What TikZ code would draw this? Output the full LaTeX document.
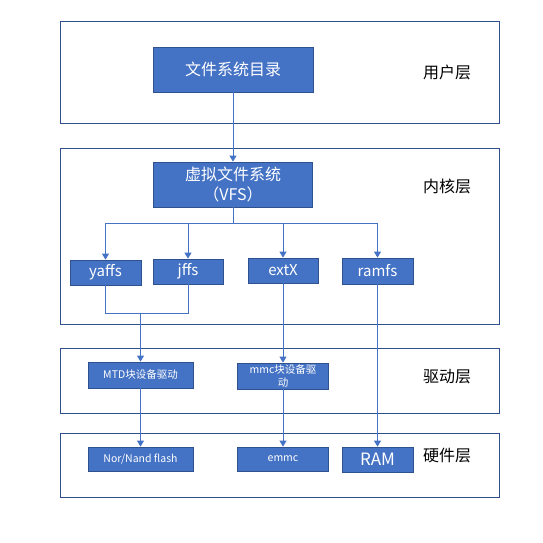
\documentclass[tikz,border=0pt]{standalone}
\usepackage{fontspec}
\setmainfont{Noto Sans CJK SC}
\usetikzlibrary{arrows.meta}
\definecolor{boxblue}{HTML}{4472C4}
\definecolor{edgeblue}{HTML}{2F528F}

\begin{document}
\begin{tikzpicture}[x=1pt,y=-1pt,
  layer/.style={draw=edgeblue, line width=0.9pt},
  blk/.style={draw=edgeblue, fill=boxblue, text=white, line width=0.8pt, inner sep=0pt, align=center},
  big/.style={font=\fontsize{16}{20}\selectfont},
  mid/.style={font=\fontsize{15}{18}\selectfont},
  small/.style={font=\fontsize{10.5}{13}\selectfont},
  link/.style={draw=boxblue, line width=0.9pt},
  arr/.style={link, -{Triangle[width=7pt,length=6pt]}}]
 \useasboundingbox (0,0) rectangle (542,543);
 % layers
 \draw[layer] (60,21) rectangle (499,123);
 \draw[layer] (60,148) rectangle (499,324);
 \draw[layer] (60,348) rectangle (499,413);
 \draw[layer] (60,433) rectangle (499,497);
 \node[big] (userL) at (447,72) {用户层};
 \node[big] (kernL) at (447,186) {内核层};
 \node[big] (drvL) at (447,377) {驱动层};
 \node[big] (hwL) at (447,456) {硬件层};
 % boxes
 \node[blk, big, minimum width=160pt, minimum height=45pt] (dir) at (233,69.5) {文件系统目录};
 \node[blk, big, minimum width=159pt, minimum height=45pt] (vfs) at (233,184.5) {虚拟文件系统\\（VFS）};
 \node[blk, mid, minimum width=71pt, minimum height=25pt] (yaffs) at (105.5,272.5) {yaffs};
 \node[blk, mid, minimum width=70pt, minimum height=25pt] (jffs) at (188,271.5) {jffs};
 \node[blk, mid, minimum width=70pt, minimum height=25pt] (extX) at (283,270.5) {extX};
 \node[blk, mid, minimum width=71pt, minimum height=26pt] (ramfs) at (377.5,271) {ramfs};
 \node[blk, small, minimum width=105pt, minimum height=26pt] (mtd) at (140.5,375) {MTD块设备驱动};
 \node[blk, small, minimum width=91pt, minimum height=26pt] (mmc) at (283,376) {mmc块设备驱\\动};
 \node[blk, small, minimum width=105pt, minimum height=24pt] (nor) at (140.5,459) {Nor/Nand flash};
 \node[blk, small, minimum width=91pt, minimum height=24pt] (emmc) at (283,459) {emmc};
 \node[blk, font=\fontsize{17}{20}\selectfont, minimum width=71pt, minimum height=25pt] (ram) at (377.5,459.5) {RAM};
 % connectors
 \draw[arr] (dir.south) -- (vfs.north);
 \coordinate (bar) at (233,223);
 \draw[link] (vfs.south) -- (bar);
 \foreach \fs in {yaffs,jffs,extX,ramfs}
  \draw[arr] (bar) -| (\fs.north);
 \coordinate (join) at (140.5,313);
 \draw[link] (yaffs.south) -- (yaffs.south |- join) -- (jffs.south |- join) -- (jffs.south);
 \draw[arr] (join) -- (mtd.north);
 \draw[arr] (extX.south) -- (mmc.north);
 \draw[arr] (mtd.south) -- (nor.north);
 \draw[arr] (mmc.south) -- (emmc.north);
 \draw[arr] (ramfs.south) -- (ram.north);
\end{tikzpicture}
\end{document}
